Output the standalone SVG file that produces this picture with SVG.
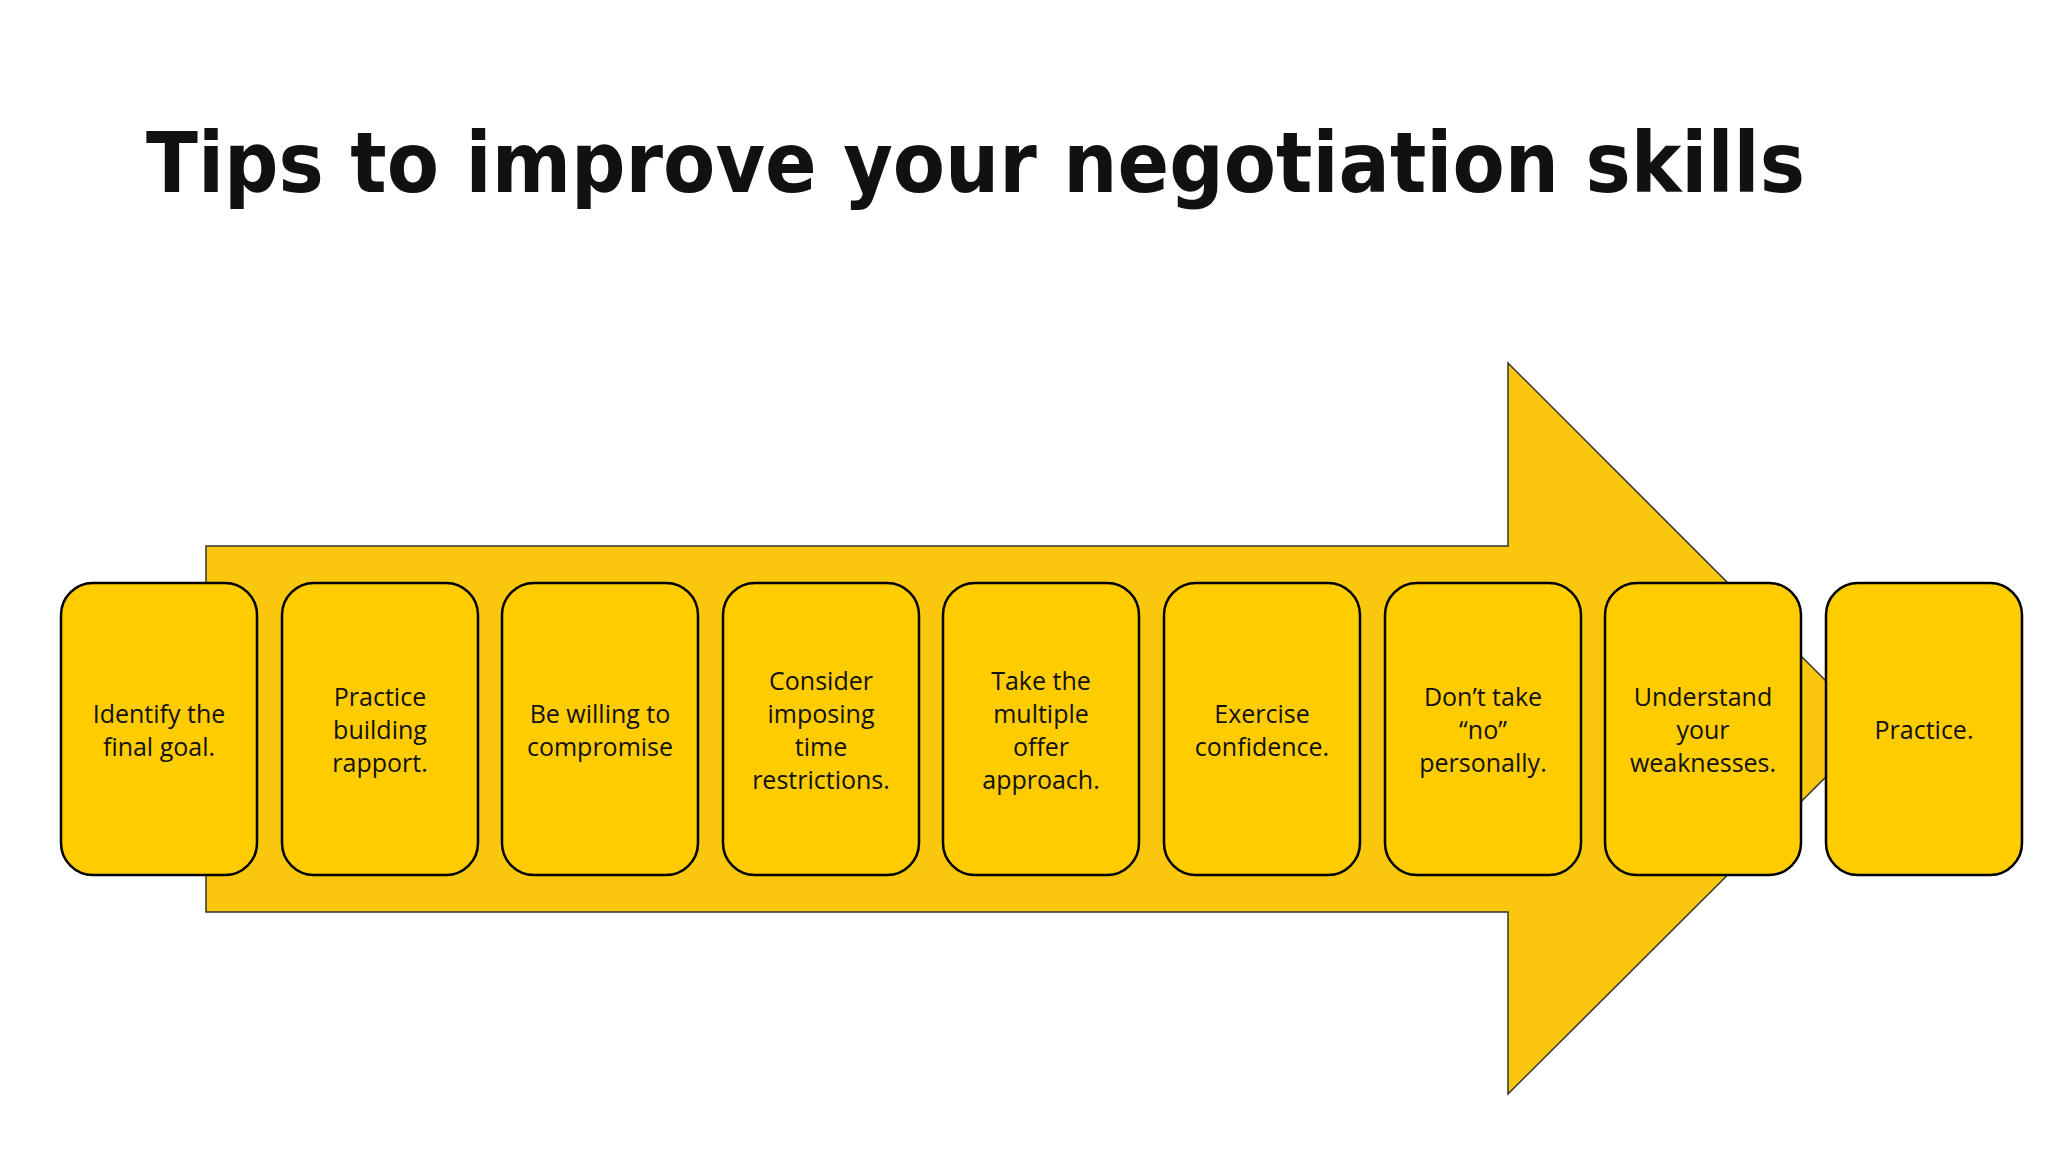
<svg xmlns="http://www.w3.org/2000/svg" width="2048" height="1152" viewBox="0 0 2048 1152">
<style>
.box{fill:#FFCC00;stroke:#000;stroke-width:2.5}
.t{font-family:"Open Sans","DejaVu Sans",sans-serif;font-size:25px;fill:#111;text-anchor:middle;dominant-baseline:central}
</style>
<rect width="2048" height="1152" fill="#fff"/>
<text x="146" y="192" font-family="DejaVu Sans, sans-serif" font-weight="bold" font-size="84" fill="#111" textLength="1659" lengthAdjust="spacingAndGlyphs">Tips to improve your negotiation skills</text>
<g id="arrow"><polygon points="206,546 1508,546 1508,363 1874,729 1508,1094 1508,912 206,912" fill="#F9C80E" stroke="#333" stroke-width="1.5"/></g>
<g id="connectors"></g>
<g id="n1"><rect class="box" x="61" y="583" width="196" height="292" rx="32"/><text class="t" x="159"><tspan x="159" y="713">Identify the</tspan><tspan x="159" y="746">final goal.</tspan></text></g>
<g id="n2"><rect class="box" x="282" y="583" width="196" height="292" rx="32"/><text class="t"><tspan x="380" y="696">Practice</tspan><tspan x="380" y="729">building</tspan><tspan x="380" y="762">rapport.</tspan></text></g>
<g id="n3"><rect class="box" x="502" y="583" width="196" height="292" rx="32"/><text class="t"><tspan x="600" y="713">Be willing to</tspan><tspan x="600" y="746">compromise</tspan></text></g>
<g id="n4"><rect class="box" x="723" y="583" width="196" height="292" rx="32"/><text class="t"><tspan x="821" y="680">Consider</tspan><tspan x="821" y="713">imposing</tspan><tspan x="821" y="746">time</tspan><tspan x="821" y="779">restrictions.</tspan></text></g>
<g id="n5"><rect class="box" x="943" y="583" width="196" height="292" rx="32"/><text class="t"><tspan x="1041" y="680">Take the</tspan><tspan x="1041" y="713">multiple</tspan><tspan x="1041" y="746">offer</tspan><tspan x="1041" y="779">approach.</tspan></text></g>
<g id="n6"><rect class="box" x="1164" y="583" width="196" height="292" rx="32"/><text class="t"><tspan x="1262" y="713">Exercise</tspan><tspan x="1262" y="746">confidence.</tspan></text></g>
<g id="n7"><rect class="box" x="1385" y="583" width="196" height="292" rx="32"/><text class="t"><tspan x="1483" y="696">Don’t take</tspan><tspan x="1483" y="729">“no”</tspan><tspan x="1483" y="762">personally.</tspan></text></g>
<g id="n8"><rect class="box" x="1605" y="583" width="196" height="292" rx="32"/><text class="t"><tspan x="1703" y="696">Understand</tspan><tspan x="1703" y="729">your</tspan><tspan x="1703" y="762">weaknesses.</tspan></text></g>
<g id="n9"><rect class="box" x="1826" y="583" width="196" height="292" rx="32"/><text class="t"><tspan x="1924" y="729">Practice.</tspan></text></g>
</svg>
